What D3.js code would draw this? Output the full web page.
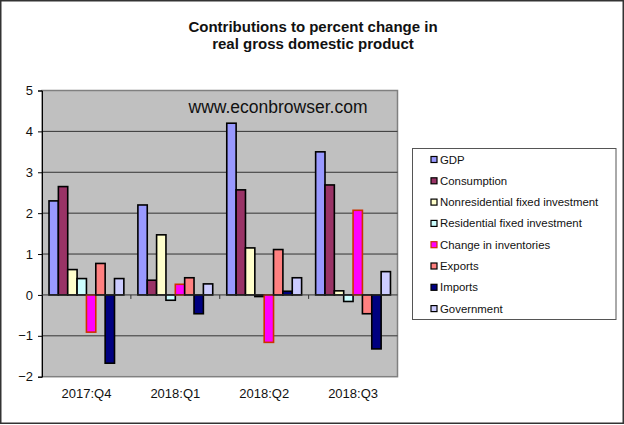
<!DOCTYPE html>
<html>
<head>
<meta charset="utf-8">
<script src="https://cdn.jsdelivr.net/npm/d3@7"></script>
<style>
  body { margin: 0; background: #fff; }
  svg { display: block; font-family: "Liberation Sans", Arial, sans-serif; }
</style>
</head>
<body>
<svg id="chart" width="624" height="425"></svg>
<script>
// quarters on the x axis
const quarters = ["2017:Q4", "2018:Q1", "2018:Q2", "2018:Q3"];
// series names, in legend order
const seriesNames = ["GDP", "Consumption", "Nonresidential fixed investment",
  "Residential fixed investment", "Change in inventories", "Exports", "Imports", "Government"];
// contribution values, one array per series (one value per quarter)
const gdp = [2.30, 2.20, 4.20, 3.50];
const consumption = [2.65, 0.36, 2.57, 2.69];
const nonresInv = [0.62, 1.47, 1.15, 0.10];
const resInv = [0.40, -0.13, -0.04, -0.16];
const inventories = [-0.91, 0.26, -1.16, 2.07];
const exportsC = [0.77, 0.42, 1.11, -0.46];
const importsC = [-1.67, -0.46, 0.09, -1.32];
const government = [0.40, 0.27, 0.42, 0.57];
const yTicks = [-2, -1, 0, 1, 2, 3, 4, 5];

const seriesValues = [gdp, consumption, nonresInv, resInv, inventories, exportsC, importsC, government];
const fills = ["#9999FF", "#993366", "#FFFFCC", "#CCFFFF", "#FF00FF", "#FF8080", "#000080", "#CCCCFF"];
const strokes = ["#000", "#000", "#000", "#000", "#CC3300", "#000", "#000", "#000"];

const svg = d3.select("#chart");

// outer frame
svg.append("rect")
  .attr("x", 0.75).attr("y", 0.75)
  .attr("width", 622.5).attr("height", 422.5)
  .attr("fill", "#fff").attr("stroke", "#333").attr("stroke-width", 1.5);

// title
const title = svg.append("text")
  .attr("text-anchor", "middle")
  .attr("font-weight", "bold")
  .attr("font-size", 15)
  .attr("fill", "#111");
title.append("tspan").attr("x", 313).attr("y", 32).text("Contributions to percent change in");
title.append("tspan").attr("x", 313).attr("y", 49).text("real gross domestic product");

const plot = { left: 42, right: 397.5, top: 90.5, bottom: 376.7 };

const x = d3.scaleBand()
  .domain(quarters)
  .range([plot.left, plot.right]);

// 8 bars per group, Excel-style gap of 150% of bar width
const inner = d3.scaleBand()
  .domain(seriesNames)
  .range([0, x.bandwidth()])
  .paddingInner(0)
  .paddingOuter(0.75);

const y = d3.scaleLinear()
  .domain([-2, 5])
  .range([plot.bottom, plot.top]);

// plot background
svg.append("rect")
  .attr("x", plot.left).attr("y", plot.top)
  .attr("width", plot.right - plot.left).attr("height", plot.bottom - plot.top)
  .attr("fill", "#C0C0C0").attr("stroke", "#808080").attr("stroke-width", 1.5);

// gridlines
svg.append("g")
  .selectAll("line")
  .data(yTicks.filter(d => d !== -2 && d !== 5 && d !== 0))
  .join("line")
  .attr("x1", plot.left).attr("x2", plot.right)
  .attr("y1", d => y(d)).attr("y2", d => y(d))
  .attr("stroke", "#333").attr("stroke-width", 1);

// y axis
const yAxis = svg.append("g")
  .attr("transform", `translate(${plot.left},0)`)
  .call(d3.axisLeft(y).tickValues(yTicks).tickSize(4).tickPadding(5).tickFormat(d3.format("d")));
yAxis.select(".domain").attr("stroke", "#000");
yAxis.selectAll(".tick line").attr("stroke", "#000");
yAxis.selectAll("text").attr("font-size", 13).attr("fill", "#111")
  .attr("font-family", "Liberation Sans, Arial, sans-serif");

// watermark
svg.append("text")
  .attr("x", 278).attr("y", 113)
  .attr("text-anchor", "middle")
  .attr("font-size", 17.5)
  .attr("fill", "#111")
  .text("www.econbrowser.com");

// bars
const groups = svg.append("g")
  .selectAll("g")
  .data(quarters)
  .join("g")
  .attr("transform", d => `translate(${x(d)},0)`);

groups.selectAll("rect")
  .data((q, qi) => seriesNames.map((s, si) => ({ s, si, v: seriesValues[si][qi] })))
  .join("rect")
  .attr("x", d => inner(d.s))
  .attr("width", inner.bandwidth())
  .attr("y", d => y(Math.max(0, d.v)))
  .attr("height", d => Math.abs(y(d.v) - y(0)))
  .attr("fill", d => fills[d.si])
  .attr("stroke", d => strokes[d.si])
  .attr("stroke-width", 1.6);

// x axis along zero line, ticks at band boundaries
svg.append("line")
  .attr("x1", plot.left).attr("x2", plot.right)
  .attr("y1", y(0)).attr("y2", y(0))
  .attr("stroke", "#333").attr("stroke-width", 1);
svg.append("g")
  .selectAll("line")
  .data(quarters.slice(1))
  .join("line")
  .attr("x1", d => x(d)).attr("x2", d => x(d))
  .attr("y1", y(0)).attr("y2", y(0) + 4)
  .attr("stroke", "#333");

svg.append("g")
  .selectAll("text")
  .data(quarters)
  .join("text")
  .attr("x", d => x(d) + x.bandwidth() / 2)
  .attr("y", 398)
  .attr("text-anchor", "middle")
  .attr("font-size", 13)
  .attr("fill", "#111")
  .text(d => d);

// legend
const legend = svg.append("g");
legend.append("rect")
  .attr("x", 412.5).attr("y", 148.5)
  .attr("width", 203.5).attr("height", 171)
  .attr("fill", "#fff").attr("stroke", "#555").attr("stroke-width", 1);

const items = legend.selectAll("g.item")
  .data(seriesNames)
  .join("g")
  .attr("class", "item")
  .attr("transform", (d, i) => `translate(431,${159.5 + i * 21.3})`);
items.append("rect")
  .attr("x", 0).attr("y", -3)
  .attr("width", 6).attr("height", 6)
  .attr("fill", (d, i) => fills[i])
  .attr("stroke", (d, i) => strokes[i])
  .attr("stroke-width", 1.2);
items.append("text")
  .attr("x", 9).attr("y", 4)
  .attr("font-size", 11.4)
  .attr("fill", "#111")
  .text(d => d);
</script>
</body>
</html>
